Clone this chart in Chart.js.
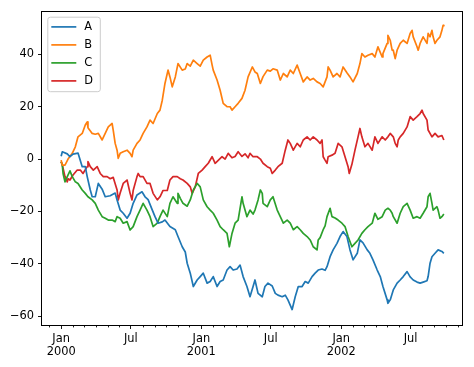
<!DOCTYPE html>
<html><head><meta charset="utf-8">
<script src="https://cdn.jsdelivr.net/npm/chart.js@4.4.1/dist/chart.umd.min.js"></script>
<style>html,body{margin:0;padding:0;background:#fff;}#wrap{width:474px;height:367px;}</style>
</head><body><div id="wrap"><canvas id="c" width="474" height="367"></canvas></div>
<script>
// Days counted from 2000-01-01 (daily index)
const startYear = 2000;
const seriesNames = ['A', 'B', 'C', 'D'];
const seriesColors = ['#1f77b4', '#ff7f0e', '#2ca02c', '#d62728'];

const seriesA = [[0,1.1],[3,2.8],[16,2],[23,0.9],[31,1.9],[44,2.3],[55,-2.9],[63,-2.9],[68,-6.7],[76,-11.8],[81,-14.4],[89,-14.4],[97,-9.3],[107,-11.5],[115,-14.4],[128,-14],[141,-13],[146,-15.6],[154,-19.5],[162,-20.7],[172,-22.6],[180,-20.7],[188,-16.9],[198,-13.7],[211,-12.5],[219,-14.4],[227,-15.5],[238,-19.5],[245,-22],[253,-24.5],[264,-24],[271,-23.3],[284,-25.8],[298,-27],[305,-29.6],[316,-33.5],[324,-35.5],[329,-39.8],[337,-43.6],[345,-48.7],[355,-46.2],[363,-44.9],[371,-43.6],[381,-47.4],[389,-46.8],[397,-44.9],[407,-48.7],[415,-46.8],[423,-46.2],[433,-42.4],[441,-41.1],[449,-42.4],[459,-42],[467,-40.5],[475,-44.9],[485,-48.7],[493,-52.6],[501,-48.7],[506,-46.2],[514,-51.3],[525,-52.6],[532,-48.7],[540,-47.4],[551,-48.5],[559,-51.3],[566,-52],[577,-52.6],[585,-52],[592,-53.8],[603,-57.5],[611,-52.6],[619,-48.7],[629,-48.7],[637,-46.8],[645,-47.4],[655,-44.9],[663,-43.6],[671,-42.4],[681,-42],[689,-42.5],[694,-41.1],[702,-37.3],[710,-34.7],[720,-32.2],[728,-29.6],[736,-27.7],[746,-29.6],[754,-34.7],[762,-38.5],[773,-36],[780,-30.9],[788,-32],[799,-34.7],[806,-36],[814,-38.5],[825,-42.4],[833,-44.9],[840,-48.7],[851,-53.8],[853,-55.1],[859,-53.8],[867,-50],[877,-47.4],[885,-46.2],[893,-44.9],[903,-43],[911,-45],[919,-46.2],[929,-47],[937,-47.4],[945,-47],[955,-46.5],[958,-44.9],[963,-39.8],[968,-37.3],[976,-36],[984,-34.7],[994,-35.3],[999,-36]];

const seriesB = [[0,-0.4],[3,-2.3],[10,-2.3],[18,0],[29,2.2],[37,4.7],[44,8.5],[55,9.8],[63,13],[68,14.2],[70,12],[81,9.8],[89,9.5],[97,9.8],[107,7.3],[115,9.8],[123,12.3],[133,13.6],[136,11],[141,6],[146,3.4],[149,0.3],[154,2.2],[162,2.8],[172,3.4],[180,2.2],[185,0.9],[188,3.4],[198,6],[206,7.3],[214,9.8],[224,12.3],[232,14.9],[240,13.6],[251,17.4],[258,18.7],[264,22.5],[271,28.9],[279,34],[284,31.4],[290,27.6],[298,31.4],[305,36.5],[316,34],[324,34.4],[329,36.5],[337,35.5],[345,37.8],[355,36.5],[363,35.5],[371,37.8],[381,39],[389,39.7],[394,36],[397,34],[407,30.2],[415,26.3],[423,21.3],[433,20],[441,20],[446,18.7],[454,20],[462,21.3],[472,23.2],[480,26.3],[488,31.4],[499,35.2],[506,33.3],[512,32.7],[520,28.9],[527,31.5],[538,34],[546,33.6],[553,34.5],[564,34],[572,30.2],[580,32.7],[590,31.4],[598,34],[606,32.7],[616,35.9],[624,32.7],[632,29.5],[642,31.4],[650,30.2],[658,30.8],[668,29.5],[676,28.9],[684,27.6],[694,31.4],[697,35.2],[702,34],[710,31.4],[720,32.7],[728,31.4],[736,35.2],[746,33],[754,31.4],[762,29.5],[773,32.7],[780,36.5],[785,40.3],[793,39],[801,39.7],[812,40.3],[819,39],[827,42.9],[838,39],[840,40.3],[851,44.2],[853,47.3],[859,45.4],[864,41.6],[867,41.6],[872,38.4],[877,41.6],[885,44.2],[893,45.4],[903,44.2],[911,48],[916,49.2],[919,46.7],[929,42.9],[932,41.6],[937,44.2],[945,46.7],[955,44.2],[958,48],[963,46.7],[968,49.2],[971,46.7],[976,44.2],[981,45.4],[989,46.7],[994,49.2],[997,51.1],[999,51]];

const seriesC = [[0,-1],[3,-2.3],[5,-5.5],[10,-8.7],[16,-6.7],[23,-4.5],[29,-6.7],[37,-8.7],[44,-9.3],[55,-11.8],[63,-13.1],[70,-14.4],[81,-15.6],[89,-16.9],[97,-19.5],[107,-22],[115,-22.6],[123,-23.3],[133,-23.3],[141,-23.9],[146,-22],[154,-22.6],[162,-24.5],[172,-23.9],[180,-27.1],[188,-25.8],[198,-22],[206,-19.5],[214,-16.9],[224,-19.5],[232,-22],[240,-25.8],[251,-24.5],[258,-22],[266,-19.5],[277,-22],[284,-16.9],[292,-14.4],[303,-16.9],[305,-13.1],[311,-15],[318,-16.9],[329,-18],[337,-15.6],[345,-11.8],[355,-9.3],[363,-10.6],[371,-15.6],[381,-18.2],[389,-19.5],[397,-20.7],[407,-23.3],[415,-25.8],[423,-27],[433,-28.4],[439,-33.5],[446,-28.4],[454,-24.5],[462,-23.3],[472,-14.4],[475,-16.9],[485,-22],[493,-19.5],[501,-21],[506,-19.5],[514,-15.6],[520,-11.8],[525,-13.1],[527,-16.9],[538,-18.2],[546,-15.6],[553,-14.4],[564,-19.5],[572,-22],[580,-24.5],[590,-23.3],[598,-24.5],[606,-27],[616,-25.8],[624,-27],[632,-28.4],[642,-29.6],[650,-30.9],[658,-33.5],[668,-34.7],[671,-30.9],[676,-30],[684,-27],[689,-25.5],[694,-22],[702,-18.8],[707,-22],[715,-22.5],[723,-23.3],[733,-24.5],[741,-25.8],[749,-29.6],[759,-33.5],[767,-32.2],[775,-30.9],[785,-28.4],[793,-27],[801,-25.8],[812,-24.5],[819,-20.7],[827,-23],[838,-22],[846,-19.5],[853,-18.8],[859,-19.5],[864,-20.7],[867,-22],[877,-24.5],[885,-20.7],[893,-18.2],[903,-16.9],[911,-19.5],[919,-22.6],[929,-22],[937,-22.6],[945,-20.7],[955,-18.2],[958,-14.4],[963,-13.1],[968,-16.9],[971,-19.5],[981,-18.2],[984,-19.5],[989,-22.6],[994,-22],[999,-21]];

const seriesD = [[0,-1],[3,-2.3],[5,-3.5],[10,-6.7],[16,-8.7],[18,-7.5],[23,-8],[31,-6.1],[42,-4.2],[50,-4.2],[57,-5.5],[68,-2.9],[70,-1],[76,-2.9],[84,-4.2],[94,-2.9],[102,-5.5],[110,-6.7],[120,-6.7],[128,-7.5],[136,-7],[146,-11.8],[149,-15.6],[154,-13],[162,-9.3],[172,-8],[180,-13.1],[185,-15.6],[188,-12],[198,-6.7],[201,-5.5],[206,-6.7],[214,-6.7],[224,-9.3],[232,-9.3],[240,-13.1],[251,-15.6],[258,-14.4],[266,-12],[277,-12],[284,-8],[292,-6.7],[303,-6.7],[311,-7.5],[318,-8],[329,-9.3],[337,-10.6],[342,-13.1],[350,-10.6],[358,-5.5],[368,-4.2],[376,-2.9],[384,-1.6],[394,0.9],[402,-1.6],[410,-0.5],[420,0.9],[428,0],[436,2.2],[446,0.5],[454,1],[462,2.8],[472,1],[480,2],[488,0.5],[493,2.2],[501,0.9],[512,0.9],[520,0],[527,-1.6],[538,-2.9],[546,-3.5],[551,-5.5],[559,-4.2],[566,-2.9],[577,-1.6],[585,3.4],[592,7.3],[598,6],[606,3.4],[616,6],[624,4.7],[632,7.3],[642,8.5],[650,7.3],[658,8.5],[668,7.3],[676,6],[681,7.3],[684,0.9],[689,-0.4],[694,-1.6],[697,0.9],[707,1.5],[715,2.2],[723,6],[733,4.7],[741,0.9],[749,-2.9],[752,-5.5],[759,-2],[767,3.4],[775,8.5],[780,11.7],[785,8.5],[793,4.7],[801,6],[812,3.4],[819,8.5],[827,6],[838,8.5],[846,7.3],[853,8.5],[859,9.8],[867,8.5],[872,6],[877,4.7],[880,7.3],[885,8.5],[893,9.8],[903,12.3],[911,16.2],[919,14.9],[929,16.2],[937,17.4],[942,18.7],[945,17.4],[955,14.9],[958,11.1],[968,8.5],[976,9.8],[984,8.5],[994,9],[999,7.3]];

const yTickValues = [-60, -40, -20, 0, 20, 40];
const monthNames = ['Jan','Feb','Mar','Apr','May','Jun','Jul','Aug','Sep','Oct','Nov','Dec'];
const xLimits = [-50, 1049];
const yLimits = [-63.4, 56.2];

// month-start positions (days since 2000-01-01)
const DAY = 86400000;
const base = Date.UTC(startYear, 0, 1);
const monthTicks = [];
for (let y = startYear - 1; y <= startYear + 3; y++) {
  for (let m = 0; m < 12; m++) {
    const d = Math.round((Date.UTC(y, m, 1) - base) / DAY);
    if (d >= xLimits[0] && d <= xLimits[1]) monthTicks.push({day: d, y: y, m: m});
  }
}
const majorTicks = monthTicks.filter(t => t.m === 0 || t.m === 6);
const minorTicks = monthTicks.filter(t => !(t.m === 0 || t.m === 6));
const majorLabel = {};
majorTicks.forEach(t => { majorLabel[t.day] = t.m === 0 ? [monthNames[0], String(t.y)] : monthNames[6]; });

const allSeries = [seriesA, seriesB, seriesC, seriesD];
const FONT = {family: 'DejaVu Sans', size: 11.4, lineHeight: 1.15};

const framePlugin = {
  id: 'frame',
  afterDraw(chart) {
    const {ctx, chartArea: ca} = chart;
    const xs = chart.scales.x;
    ctx.save();
    ctx.strokeStyle = '#000';
    ctx.lineWidth = 0.9;
    minorTicks.forEach(t => {
      const px = Math.round(xs.getPixelForValue(t.day)) + 0.5;
      ctx.beginPath(); ctx.moveTo(px, ca.bottom); ctx.lineTo(px, ca.bottom + 2.4); ctx.stroke();
    });
    ctx.lineWidth = 1;
    ctx.strokeRect(ca.left - 0.5, ca.top - 0.5, ca.right - ca.left, ca.bottom - ca.top + 1);
    ctx.restore();
  }
};

const legendPlugin = {
  id: 'mplLegend',
  afterDatasetsDraw(chart) {
    const {ctx, chartArea: ca} = chart;
    const x0 = ca.left + 5.8, y0 = ca.top + 5.2, w = 52.5, h = 74.5, r = 2.5;
    ctx.save();
    ctx.beginPath();
    ctx.moveTo(x0 + r, y0);
    ctx.lineTo(x0 + w - r, y0); ctx.arcTo(x0 + w, y0, x0 + w, y0 + r, r);
    ctx.lineTo(x0 + w, y0 + h - r); ctx.arcTo(x0 + w, y0 + h, x0 + w - r, y0 + h, r);
    ctx.lineTo(x0 + r, y0 + h); ctx.arcTo(x0, y0 + h, x0, y0 + h - r, r);
    ctx.lineTo(x0, y0 + r); ctx.arcTo(x0, y0, x0 + r, y0, r);
    ctx.closePath();
    ctx.fillStyle = 'rgba(255,255,255,0.8)';
    ctx.fill();
    ctx.strokeStyle = '#cccccc';
    ctx.lineWidth = 1;
    ctx.stroke();
    ctx.font = FONT.size + 'px "DejaVu Sans"';
    ctx.textBaseline = 'middle';
    ctx.textAlign = 'left';
    chart.data.datasets.forEach((ds, i) => {
      const yy = y0 + 9.7 + i * 18;
      ctx.strokeStyle = ds.borderColor;
      ctx.lineWidth = ds.borderWidth;
      ctx.beginPath(); ctx.moveTo(x0 + 3.5, yy); ctx.lineTo(x0 + 28.5, yy); ctx.stroke();
      ctx.fillStyle = '#000';
      ctx.fillText(ds.label, x0 + 36.5, yy);
    });
    ctx.restore();
  }
};

new Chart(document.getElementById('c'), {
  type: 'line',
  data: {
    datasets: allSeries.map((s, i) => ({
      label: seriesNames[i],
      data: s.map(p => ({x: p[0], y: p[1]})),
      borderColor: seriesColors[i],
      backgroundColor: seriesColors[i],
      borderWidth: 1.7,
      pointRadius: 0,
      tension: 0,
      fill: false,
      borderJoinStyle: 'round'
    }))
  },
  options: {
    responsive: false,
    animation: false,
    devicePixelRatio: 1,
    layout: {padding: {left: 0, top: 12, right: 11, bottom: 0}},
    plugins: {legend: {display: false}, tooltip: {enabled: false}},
    scales: {
      x: {
        type: 'linear',
        min: xLimits[0], max: xLimits[1],
        afterBuildTicks(scale) { scale.ticks = majorTicks.map(t => ({value: t.day})); },
        afterFit(scale) { scale.height = 42; },
        grid: {display: true, drawOnChartArea: false, drawTicks: true, tickLength: 4, tickColor: '#000', tickWidth: 0.9},
        border: {display: false},
        ticks: {
          autoSkip: false, maxRotation: 0, minRotation: 0, padding: 3,
          color: '#000', font: FONT,
          callback: (v) => majorLabel[v] !== undefined ? majorLabel[v] : ''
        }
      },
      y: {
        type: 'linear',
        min: yLimits[0], max: yLimits[1],
        afterBuildTicks(scale) { scale.ticks = yTickValues.map(v => ({value: v})); },
        afterFit(scale) { scale.width = 42; },
        grid: {display: true, drawOnChartArea: false, drawTicks: true, tickLength: 4, tickColor: '#000', tickWidth: 0.9},
        border: {display: false},
        ticks: {
          padding: 4, color: '#000', font: FONT,
          callback: (v) => String(v).replace('-', '\u2212')
        }
      }
    }
  },
  plugins: [framePlugin, legendPlugin]
});
</script></body></html>
